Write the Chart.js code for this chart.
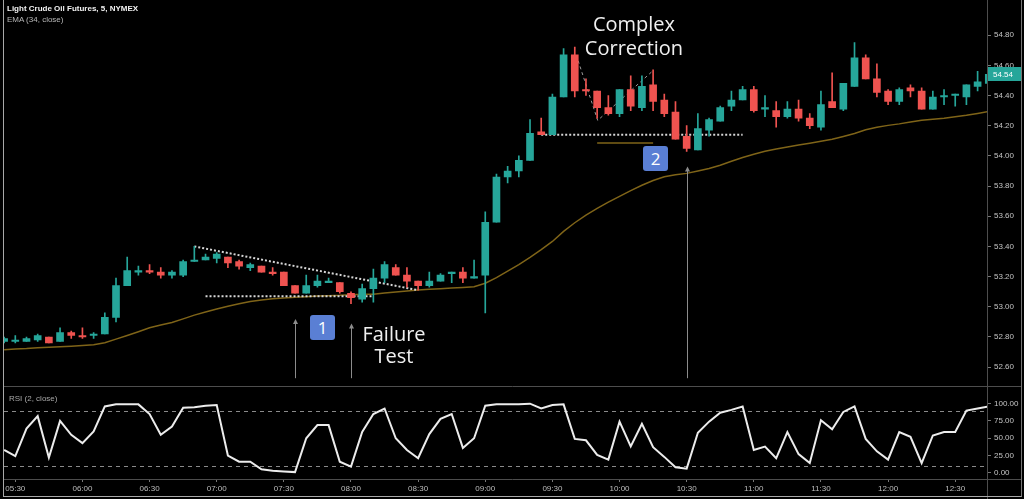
<!DOCTYPE html>
<html lang="en">
<head>
    <meta charset="UTF-8">
    <title>Light Crude Oil Futures, 5, NYMEX</title>
    <style>
        body {
            margin: 0;
            background: #000;
            width: 1024px;
            height: 499px;
            overflow: hidden;
            position: relative;
            font-family: "Liberation Sans", Arial, sans-serif;
        }
        #mainBox { position: absolute; left: 0; top: 0; width: 1024px; height: 386px; }
        #rsiBox { position: absolute; left: 0; top: 386px; width: 1024px; height: 113px; }
        .frame {
            position: absolute; left: 3px; top: -2px; width: 1017px; height: 498px;
            border-left: 1px solid #a8a8a8; border-bottom: 1px solid #a8a8a8; border-right: 1px solid #777;
            pointer-events: none;
        }
        .small { position: absolute; font-size: 8px; line-height: 10px; white-space: nowrap; }
        .big {
            position: absolute; width: 200px; text-align: center; color: #f0f0f0;
            font-family: "Open Sans", sans-serif; font-size: 20px; white-space: nowrap;
        }
        .num {
            position: absolute; width: 25px; height: 25px; border-radius: 3px;
            background: #5a7fd4; color: #fff; text-align: center;
            font-family: "Open Sans", sans-serif; font-size: 17px; line-height: 25px;
        }
    </style>
</head>
<body>
<div id="mainBox"><canvas id="mainChart" width="1024" height="386"></canvas></div>
<div id="rsiBox"><canvas id="rsiChart" width="1024" height="113"></canvas></div>

<div class="small" style="left:7px; top:4px; color:#f2f2f2; font-weight:bold;">Light Crude Oil Futures, 5, NYMEX</div>
<div class="small" style="left:7px; top:15px; color:#b8b8b8;">EMA (34, close)</div>
<div class="small" style="left:9px; top:394px; color:#a8a8a8;">RSI (2, close)</div>

<div class="big" style="left:534px; top:12px; line-height:23.7px;">Complex<br>Correction</div>
<div class="big" style="left:294px; top:323px; line-height:22px;">Failure<br>Test</div>
<div class="num" style="left:310px; top:315px;">1</div>
<div class="num" style="left:643px; top:146px;">2</div>
<div class="frame"></div>

<script src="https://cdn.jsdelivr.net/npm/chart.js"></script>
<script>
    // bar index 0 = 05:30, one bar every 5 minutes, first bar 05:25
    const firstBar = -1;
    const timeLabels = ['05:30', '06:00', '06:30', '07:00', '07:30', '08:00', '08:30', '09:00',
        '09:30', '10:00', '10:30', '11:00', '11:30', '12:00', '12:30'];
    const priceTicks = [52.6, 52.8, 53.0, 53.2, 53.4, 53.6, 53.8, 54.0, 54.2, 54.4, 54.6, 54.8];
    const rsiTicks = [0, 25, 50, 75, 100];
    const rsiLevels = [90, 10];

    const opens = [
        52.77, 52.77, 52.77, 52.78, 52.80, 52.77, 52.83, 52.81, 52.81, 52.82,
        52.93, 53.14, 53.23, 53.24, 53.23, 53.21, 53.21, 53.30, 53.31, 53.32,
        53.33, 53.30, 53.26, 53.27, 53.23, 53.23, 53.14, 53.09, 53.14, 53.16,
        53.16, 53.09, 53.05, 53.12, 53.19, 53.26, 53.21, 53.17, 53.14, 53.17,
        53.22, 53.23, 53.19, 53.21, 53.56, 53.86, 53.90, 53.97, 54.16, 54.14,
        54.39, 54.67, 54.44, 54.43, 54.32, 54.28, 54.44, 54.32, 54.47, 54.37,
        54.29, 54.13, 54.04, 54.17, 54.23, 54.33, 54.37, 54.44, 54.31, 54.30,
        54.26, 54.31, 54.25, 54.19, 54.36, 54.31, 54.46, 54.65, 54.51, 54.43,
        54.36, 54.45, 54.43, 54.31, 54.39, 54.40, 54.39, 54.46, 54.48
    ];
    const highs = [
        52.80, 52.81, 52.80, 52.82, 52.80, 52.86, 52.84, 52.86, 52.83, 52.96,
        53.19, 53.33, 53.27, 53.28, 53.26, 53.24, 53.31, 53.40, 53.35, 53.36,
        53.33, 53.31, 53.29, 53.27, 53.26, 53.23, 53.14, 53.21, 53.21, 53.19,
        53.16, 53.10, 53.15, 53.25, 53.30, 53.28, 53.26, 53.17, 53.23, 53.22,
        53.23, 53.26, 53.31, 53.63, 53.88, 53.93, 54.00, 54.24, 54.25, 54.41,
        54.71, 54.72, 54.51, 54.43, 54.40, 54.44, 54.53, 54.53, 54.57, 54.41,
        54.36, 54.20, 54.28, 54.25, 54.33, 54.43, 54.46, 54.46, 54.40, 54.36,
        54.36, 54.37, 54.28, 54.43, 54.55, 54.48, 54.75, 54.67, 54.61, 54.44,
        54.45, 54.47, 54.45, 54.43, 54.44, 54.41, 54.47, 54.56, 54.55
    ];
    const lows = [
        52.76, 52.76, 52.77, 52.77, 52.76, 52.77, 52.79, 52.79, 52.79, 52.82,
        52.90, 53.14, 53.21, 53.22, 53.19, 53.19, 53.20, 53.30, 53.31, 53.29,
        53.26, 53.25, 53.24, 53.23, 53.21, 53.14, 53.09, 53.09, 53.13, 53.16,
        53.09, 53.02, 53.03, 53.03, 53.16, 53.21, 53.13, 53.11, 53.13, 53.17,
        53.16, 53.16, 53.19, 52.96, 53.56, 53.82, 53.86, 53.97, 54.14, 54.14,
        54.39, 54.39, 54.40, 54.25, 54.27, 54.26, 54.30, 54.30, 54.30, 54.26,
        54.11, 54.03, 54.04, 54.13, 54.23, 54.30, 54.37, 54.29, 54.26, 54.19,
        54.25, 54.23, 54.18, 54.17, 54.32, 54.30, 54.46, 54.51, 54.39, 54.34,
        54.34, 54.39, 54.31, 54.31, 54.34, 54.33, 54.34, 54.43, 54.47
    ];
    const closes = [
        52.79, 52.78, 52.79, 52.81, 52.76, 52.83, 52.81, 52.80, 52.82, 52.93,
        53.14, 53.24, 53.24, 53.23, 53.21, 53.23, 53.30, 53.31, 53.33, 53.35,
        53.29, 53.27, 53.28, 53.23, 53.22, 53.14, 53.09, 53.14, 53.17, 53.17,
        53.10, 53.06, 53.12, 53.19, 53.28, 53.21, 53.17, 53.14, 53.17, 53.21,
        53.23, 53.19, 53.20, 53.56, 53.86, 53.90, 53.97, 54.15, 54.14, 54.39,
        54.67, 54.43, 54.43, 54.32, 54.28, 54.44, 54.33, 54.46, 54.36, 54.28,
        54.11, 54.05, 54.18, 54.24, 54.32, 54.37, 54.44, 54.30, 54.32, 54.26,
        54.31, 54.25, 54.20, 54.34, 54.32, 54.48, 54.65, 54.51, 54.42, 54.36,
        54.44, 54.43, 54.31, 54.39, 54.40, 54.40, 54.47, 54.49, 54.54
    ];
    const ema34 = [
        52.716, 52.720, 52.723, 52.728, 52.732, 52.735, 52.739, 52.744, 52.749, 52.762,
        52.786, 52.810, 52.835, 52.861, 52.879, 52.896, 52.920, 52.945, 52.966, 52.985,
        53.004, 53.020, 53.035, 53.045, 53.053, 53.059, 53.063, 53.067, 53.071, 53.074,
        53.076, 53.080, 53.083, 53.084, 53.091, 53.098, 53.105, 53.112, 53.116, 53.120,
        53.124, 53.128, 53.133, 53.156, 53.193, 53.236, 53.280, 53.328, 53.379, 53.433,
        53.500, 53.557, 53.608, 53.652, 53.693, 53.732, 53.770, 53.805, 53.837, 53.862,
        53.875, 53.884, 53.900, 53.916, 53.938, 53.964, 53.989, 54.011, 54.030, 54.045,
        54.059, 54.072, 54.084, 54.097, 54.110, 54.129, 54.148, 54.173, 54.189, 54.202,
        54.212, 54.224, 54.236, 54.243, 54.250, 54.259, 54.269, 54.281, 54.294
    ];
    const rsi2 = [
        33, 24, 64, 82, 22, 75, 55, 43, 60, 96,
        99, 99, 99, 85, 55, 67, 94, 95, 97, 98,
        25, 16, 16, 5, 3, 2, 1, 50, 69, 69,
        16, 9, 59, 85, 93, 50, 33, 21, 56, 78,
        85, 36, 50, 97, 99, 99, 99, 100, 93, 98,
        99, 49, 47, 26, 19, 74, 38, 71, 37, 23,
        8, 6, 58, 74, 87, 91, 96, 33, 38, 21,
        59, 27, 14, 76, 63, 88, 96, 49, 31, 19,
        59, 52, 14, 54, 59, 59, 90, 93, 96
    ];

    // drawn annotations (bar index / price)
    const trendX = [16, 36], trendY = [53.40, 53.11];
    const supportX = [17, 32], supportY = [53.07, 53.07];
    const ceilingX = [47, 65], ceilingY = [54.14, 54.14];
    const goldX = [52, 57], goldY = [54.085, 54.085];
    const zigzagX = [50.3, 52.05, 57.0], zigzagY = [54.63, 54.235, 54.565];
    const arrowBars = [25, 30, 60];
    const arrowTips = [52.92, 52.89, 53.93];

    const xMin = -1.01, xMax = 86.84;
    const up = '#26a69a', down = '#ef5350';
    const emaColor = '#7f6418';
    const axisColor = '#4d4d4d';

    Chart.defaults.font.family = '"Liberation Sans", Arial, sans-serif';
    Chart.defaults.font.size = 8;

    const barIdx = opens.map((_, k) => firstBar + k);
    const candleColors = opens.map((o, k) => closes[k] >= o ? up : down);
    const pts = (xs, ys) => xs.map((v, k) => ({x: v, y: ys[k]}));

    function annoLine(xs, ys, color, width, dash) {
        return {
            type: 'line', data: pts(xs, ys), borderColor: color, borderWidth: width,
            borderDash: dash, pointRadius: 0, order: 4, tension: 0
        };
    }

    const mainPlugin = {
        id: 'mainPlugin',
        afterDatasetsDraw(chart) {
            const {ctx, chartArea, scales: {x, y}} = chart;
            ctx.save();
            ctx.strokeStyle = '#8c8c8c';
            ctx.fillStyle = '#8c8c8c';
            ctx.lineWidth = 1;
            arrowBars.forEach((b, n) => {
                const px = Math.round(x.getPixelForValue(b)) + 0.5;
                const top = y.getPixelForValue(arrowTips[n]);
                ctx.beginPath();
                ctx.moveTo(px, chartArea.bottom);
                ctx.lineTo(px, top + 2);
                ctx.stroke();
                ctx.beginPath();
                ctx.moveTo(px, top);
                ctx.lineTo(px - 2.5, top + 5);
                ctx.lineTo(px + 2.5, top + 5);
                ctx.closePath();
                ctx.fill();
            });
            ctx.restore();
        },
        afterDraw(chart) {
            const {ctx, chartArea, scales: {y}} = chart;
            ctx.save();
            ctx.strokeStyle = axisColor;
            ctx.beginPath();
            ctx.moveTo(chartArea.right + 0.5, 0);
            ctx.lineTo(chartArea.right + 0.5, chart.height);
            ctx.stroke();
            // last price label
            const last = closes[closes.length - 1];
            const py = Math.round(y.getPixelForValue(last));
            ctx.fillStyle = up;
            ctx.fillRect(chartArea.right + 1, py - 7, 34, 14);
            ctx.fillStyle = '#ffffff';
            ctx.textBaseline = 'middle';
            ctx.font = '8px "Liberation Sans", Arial, sans-serif';
            ctx.fillText(last.toFixed(2), chartArea.right + 6, py + 0.5);
            ctx.restore();
        }
    };

    new Chart(document.getElementById('mainChart'), {
        type: 'bar',
        data: {
            datasets: [
                {
                    type: 'line', data: pts(barIdx, ema34), borderColor: emaColor,
                    borderWidth: 1.5, pointRadius: 0, order: 5, tension: 0
                },
                annoLine(trendX, trendY, '#d6d6d6', 2, [2, 2]),
                annoLine(supportX, supportY, '#d6d6d6', 2, [2, 2]),
                annoLine(ceilingX, ceilingY, '#d6d6d6', 2, [2, 2]),
                annoLine(goldX, goldY, emaColor, 1.5, []),
                annoLine(zigzagX, zigzagY, '#9a9a9a', 1, [3, 3]),
                {
                    data: barIdx.map((v, k) => ({x: v, y: [lows[k], highs[k]]})),
                    backgroundColor: candleColors, barThickness: 1, grouped: false,
                    minBarLength: 1, order: 3
                },
                {
                    data: barIdx.map((v, k) => ({x: v, y: [opens[k], closes[k]]})),
                    backgroundColor: candleColors, barThickness: 7, grouped: false,
                    minBarLength: 1.5, order: 2
                }
            ]
        },
        options: {
            responsive: false,
            animation: false,
            events: [],
            layout: {padding: {left: 4, top: 0, right: 0, bottom: 0}},
            plugins: {legend: {display: false}, tooltip: {enabled: false}},
            scales: {
                x: {type: 'linear', min: xMin, max: xMax, offset: false, display: false},
                y: {
                    position: 'right',
                    min: 52.527,
                    max: 54.981,
                    afterFit(scale) { scale.width = 37; },
                    afterBuildTicks(scale) { scale.ticks = priceTicks.map(v => ({value: v})); },
                    ticks: {
                        color: '#c4c4c4', padding: 3,
                        callback: v => v.toFixed(2)
                    },
                    grid: {drawOnChartArea: false, tickLength: 4, color: '#777'},
                    border: {display: false}
                }
            }
        },
        plugins: [mainPlugin]
    });

    const rsiPlugin = {
        id: 'rsiPlugin',
        beforeDatasetsDraw(chart) {
            const {ctx, chartArea, scales: {y}} = chart;
            ctx.save();
            ctx.strokeStyle = '#8a8a8a';
            ctx.lineWidth = 1;
            ctx.setLineDash([4, 4]);
            rsiLevels.forEach(level => {
                const py = Math.round(y.getPixelForValue(level)) + 0.5;
                ctx.beginPath();
                ctx.moveTo(chartArea.left, py);
                ctx.lineTo(chartArea.right, py);
                ctx.stroke();
            });
            ctx.restore();
        },
        afterDraw(chart) {
            const {ctx, chartArea} = chart;
            ctx.save();
            ctx.strokeStyle = axisColor;
            ctx.lineWidth = 1;
            ctx.beginPath();
            ctx.moveTo(4, 0.5);
            ctx.lineTo(1021, 0.5);
            ctx.moveTo(4, chartArea.bottom + 0.5);
            ctx.lineTo(1021, chartArea.bottom + 0.5);
            ctx.moveTo(chartArea.right + 0.5, 0);
            ctx.lineTo(chartArea.right + 0.5, chart.height);
            ctx.stroke();
            ctx.restore();
        }
    };

    new Chart(document.getElementById('rsiChart'), {
        type: 'line',
        data: {
            datasets: [{
                data: pts(barIdx, rsi2), borderColor: '#ececec', borderWidth: 2,
                pointRadius: 0, tension: 0
            }]
        },
        options: {
            responsive: false,
            animation: false,
            events: [],
            layout: {padding: {left: 4, top: 0, right: 0, bottom: 2}},
            plugins: {legend: {display: false}, tooltip: {enabled: false}},
            scales: {
                x: {
                    type: 'linear', min: xMin, max: xMax, offset: false,
                    afterFit(scale) { scale.height = 18; },
                    afterBuildTicks(scale) { scale.ticks = timeLabels.map((_, k) => ({value: k * 6})); },
                    ticks: {
                        color: '#bdbdbd', padding: 2, maxRotation: 0, autoSkip: false,
                        callback: (v) => timeLabels[Math.round(v / 6)]
                    },
                    grid: {drawOnChartArea: false, tickLength: 3, color: '#777'},
                    border: {display: false}
                },
                y: {
                    position: 'right',
                    min: -9,
                    max: 114.3,
                    afterFit(scale) { scale.width = 37; },
                    afterBuildTicks(scale) { scale.ticks = rsiTicks.map(v => ({value: v})); },
                    ticks: {
                        color: '#c4c4c4', padding: 3,
                        callback: v => v.toFixed(2)
                    },
                    grid: {drawOnChartArea: false, tickLength: 4, color: '#777'},
                    border: {display: false}
                }
            }
        },
        plugins: [rsiPlugin]
    });
</script>
</body>
</html>
